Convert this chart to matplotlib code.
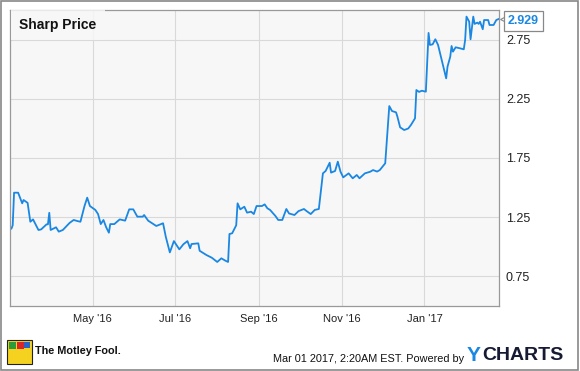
import matplotlib
matplotlib.use("Agg")
import matplotlib.pyplot as plt
from matplotlib.patches import Rectangle
from matplotlib.transforms import blended_transform_factory
import pandas as pd

plt.rcParams['font.family'] = ['Liberation Sans', 'DejaVu Sans']

# Sharp price
dates = [
    "2016-03-01", "2016-03-02", "2016-03-03", "2016-03-04", "2016-03-07", "2016-03-10",
    "2016-03-11", "2016-03-14", "2016-03-16", "2016-03-18", "2016-03-22", "2016-03-24",
    "2016-03-28", "2016-03-29", "2016-03-30", "2016-03-31", "2016-04-04", "2016-04-06",
    "2016-04-09", "2016-04-14", "2016-04-17", "2016-04-20", "2016-04-22", "2016-04-25",
    "2016-04-27", "2016-04-29", "2016-05-03", "2016-05-05", "2016-05-07", "2016-05-09",
    "2016-05-11", "2016-05-13", "2016-05-14", "2016-05-17", "2016-05-21", "2016-05-25",
    "2016-05-28", "2016-05-31", "2016-06-03", "2016-06-07", "2016-06-08", "2016-06-11",
    "2016-06-17", "2016-06-22", "2016-06-24", "2016-06-27", "2016-06-30", "2016-07-04",
    "2016-07-07", "2016-07-10", "2016-07-12", "2016-07-13", "2016-07-18", "2016-07-19",
    "2016-07-24", "2016-07-28", "2016-08-01", "2016-08-04", "2016-08-07", "2016-08-09",
    "2016-08-10", "2016-08-12", "2016-08-15", "2016-08-16", "2016-08-18", "2016-08-21",
    "2016-08-23", "2016-08-26", "2016-08-28", "2016-08-30", "2016-09-03", "2016-09-05",
    "2016-09-07", "2016-09-09", "2016-09-13", "2016-09-15", "2016-09-18", "2016-09-21",
    "2016-09-23", "2016-09-27", "2016-09-30", "2016-10-04", "2016-10-06", "2016-10-09",
    "2016-10-12", "2016-10-15", "2016-10-18", "2016-10-20", "2016-10-23", "2016-10-24",
    "2016-10-27", "2016-10-29", "2016-10-31", "2016-11-02", "2016-11-06", "2016-11-09",
    "2016-11-12", "2016-11-14", "2016-11-18", "2016-11-22", "2016-11-24", "2016-11-27",
    "2016-11-29", "2016-12-03", "2016-12-06", "2016-12-08", "2016-12-11", "2016-12-12",
    "2016-12-14", "2016-12-17", "2016-12-20", "2016-12-22", "2016-12-25", "2016-12-26",
    "2016-12-28", "2016-12-30", "2017-01-02", "2017-01-04", "2017-01-05", "2017-01-07",
    "2017-01-09", "2017-01-11", "2017-01-14", "2017-01-17", "2017-01-18", "2017-01-20",
    "2017-01-21", "2017-01-22", "2017-01-24", "2017-01-27", "2017-01-30", "2017-01-31",
    "2017-02-01", "2017-02-03", "2017-02-04", "2017-02-06", "2017-02-07", "2017-02-09",
    "2017-02-10", "2017-02-11", "2017-02-13", "2017-02-14", "2017-02-17", "2017-02-18",
    "2017-02-21", "2017-02-23", "2017-02-25",
]
prices = [
    1.16, 1.15, 1.18, 1.456, 1.456, 1.366,
    1.394, 1.37, 1.21, 1.23, 1.14, 1.145,
    1.188, 1.188, 1.286, 1.14, 1.163, 1.126,
    1.14, 1.20, 1.225, 1.215, 1.21, 1.343,
    1.414, 1.343, 1.31, 1.275, 1.19, 1.225,
    1.163, 1.117, 1.19, 1.19, 1.23, 1.219,
    1.315, 1.315, 1.253, 1.253, 1.267, 1.219,
    1.174, 1.197, 1.083, 0.95, 1.046, 0.976,
    1.019, 1.046, 0.985, 1.021, 1.027, 0.964,
    0.928, 0.905, 0.869, 0.90, 0.88, 0.869,
    1.106, 1.112, 1.18, 1.366, 1.315, 1.337,
    1.287, 1.295, 1.275, 1.343, 1.343, 1.357,
    1.324, 1.31, 1.258, 1.225, 1.225, 1.318,
    1.28, 1.267, 1.30, 1.318, 1.30, 1.275,
    1.31, 1.318, 1.62, 1.64, 1.71, 1.626,
    1.64, 1.719, 1.634, 1.586, 1.62, 1.578,
    1.606, 1.578, 1.62, 1.634, 1.648, 1.635,
    1.648, 1.705, 2.19, 2.148, 2.137, 2.10,
    2.01, 1.987, 2.0, 2.03, 2.086, 2.326,
    2.31, 2.32, 2.312, 2.81, 2.708, 2.713,
    2.756, 2.708, 2.566, 2.425, 2.524, 2.608,
    2.699, 2.651, 2.688, 2.68, 2.671, 2.75,
    2.948, 2.905, 2.756, 2.948, 2.886, 2.897,
    2.886, 2.905, 2.841, 2.919, 2.919, 2.877,
    2.877, 2.919, 2.929,
]
y_ticks = [0.75, 1.25, 1.75, 2.25, 2.75]
x_ticks = ["2016-05-01", "2016-07-01", "2016-09-01", "2016-11-01", "2017-01-01"]
x_labels = ["May '16", "Jul '16", "Sep '16", "Nov '16", "Jan '17"]

W, H = 580, 371
fig = plt.figure(figsize=(W / 100, H / 100), dpi=100)
fig.patch.set_facecolor("white")

def fx(px):
    return px / W

def fy(py):
    return 1 - py / H

# plot area 10..499 x 10..306 px
ax = fig.add_axes([fx(10), fy(306), fx(499) - fx(10), fy(10) - fy(306)])
ax.set_facecolor("#f7f7f7")

line_color = "#1a87e2"
ax.plot(pd.to_datetime(dates), prices, color=line_color, lw=1.3, solid_joinstyle="round")

ax.set_xlim(pd.Timestamp("2016-03-01"), pd.Timestamp("2017-02-25"))
ax.set_ylim(0.496, 3.004)

ax.set_xticks(pd.to_datetime(x_ticks))
ax.set_xticklabels(x_labels)
ax.set_yticks(y_ticks)
ax.set_yticklabels([f"{v:.2f}" for v in y_ticks])
ax.yaxis.tick_right()
ax.tick_params(axis="both", length=0, colors="#222222")
ax.tick_params(axis="x", pad=6, labelsize=8)
ax.tick_params(axis="y", pad=5, labelsize=9)
ax.grid(True, color="#d9d9d9", lw=0.8)
ax.set_axisbelow(True)
for s in ax.spines.values():
    s.set_color("#999999")
    s.set_linewidth(0.9)

# title box
ax.text(fx(21) - fx(10), 1 - (24.5 - 10) / 296, "Sharp Price", transform=ax.transAxes,
        fontsize=10, fontweight="bold", color="#111111", va="center", ha="left",
        bbox=dict(boxstyle="square,pad=0.6", fc="#f7f7f7", ec="none", alpha=0.85))

# last value label
last = prices[-1]
tr = blended_transform_factory(ax.transAxes, ax.transData)
ax.plot([1.0 + 3.5 / 489], [last], marker="<", ms=5, mfc="white", mec="#888888",
        mew=0.8, transform=tr, clip_on=False, zorder=4)
ax.text(1.0 + 9 / 489, last - 0.02, f"{last:.3f}", transform=tr, fontsize=9,
        fontweight="bold", color=line_color, va="center", ha="left", zorder=5,
        bbox=dict(boxstyle="square,pad=0.3", fc="white", ec="#888888", lw=0.9))

# outer border
fig.patches.append(Rectangle((fx(0.5), fy(369.5)), fx(578) - fx(0.5), fy(0.5) - fy(369.5),
                             transform=fig.transFigure, fill=False, ec="#888888", lw=1.2))

# footer: Motley Fool mark
fig.patches.append(Rectangle((fx(7), fy(364)), fx(25), fy(340) - fy(364),
                             transform=fig.transFigure, fc="#f5d21f", ec="#222222", lw=0.8))
fig.patches.append(Rectangle((fx(9), fy(349)), fx(7), fy(342) - fy(349),
                             transform=fig.transFigure, fc="#2a9d3a", ec="none"))
fig.patches.append(Rectangle((fx(17), fy(349)), fx(7), fy(342) - fy(349),
                             transform=fig.transFigure, fc="#d8262b", ec="none"))
fig.patches.append(Rectangle((fx(24), fy(348)), fx(6), fy(342) - fy(348),
                             transform=fig.transFigure, fc="#2a62c8", ec="none"))
fig.text(fx(35), fy(351.5), "The Motley Fool.", fontsize=7.8, fontweight="bold",
         color="#111111", va="center", ha="left")

# footer: timestamp and YCharts
fig.text(fx(273), fy(359.5), "Mar 01 2017, 2:20AM EST. Powered by", fontsize=7.8,
         color="#111111", va="center", ha="left")
fig.text(fx(467), fy(355.5), "Y", fontsize=15, fontweight="bold", color="#1a87e2",
         va="center", ha="left")
fig.text(fx(482), fy(355.5), "CHARTS", fontsize=14, fontweight="bold", color="#161a33",
         va="center", ha="left")

fig.savefig("out.png", dpi=100)
